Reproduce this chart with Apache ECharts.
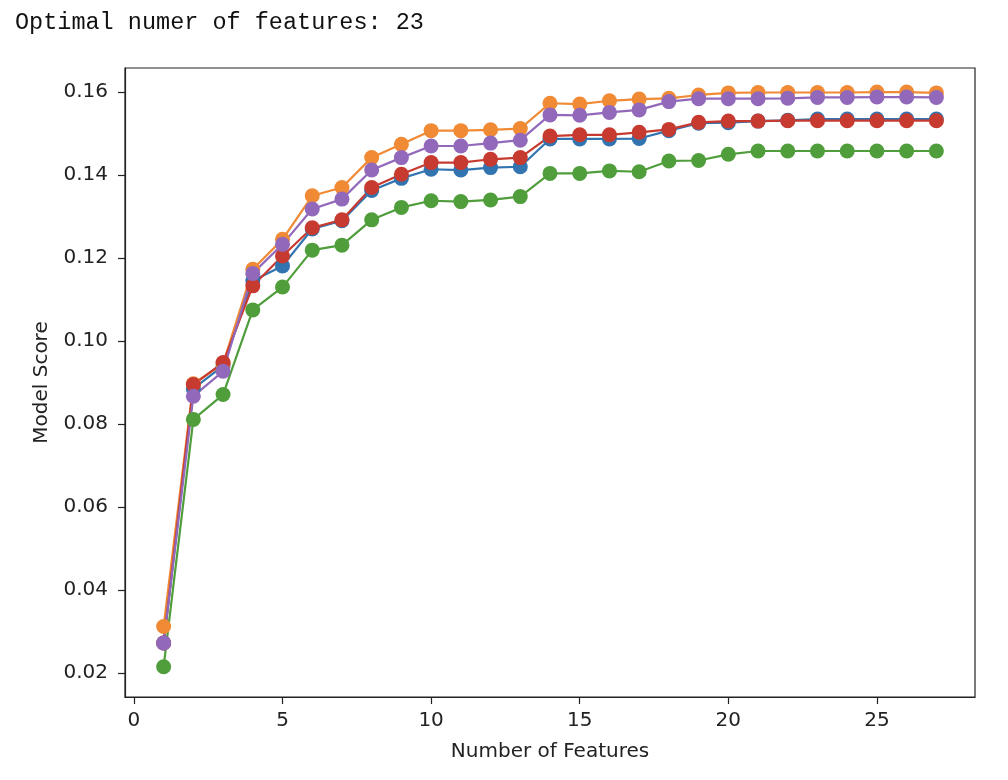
<!DOCTYPE html>
<html>
<head>
<meta charset="utf-8">
<script src="https://cdn.jsdelivr.net/npm/echarts@6/dist/echarts.min.js"></script>
<style>
html,body{margin:0;padding:0;background:#fff;}
#chart{width:1008px;height:780px;}
</style>
</head>
<body>
<div id="chart"></div>
<script>
const titleText = "Optimal numer of features: 23";
const xLabel = "Number of Features";
const yLabel = "Model Score";
const nFeatures = [1,2,3,4,5,6,7,8,9,10,11,12,13,14,15,16,17,18,19,20,21,22,23,24,25,26,27];
const xTicks = [0,5,10,15,20,25];
const yTicks = [0.02,0.04,0.06,0.08,0.10,0.12,0.14,0.16];

const seriesBlue   = [0.0272,0.0885,0.0940,0.1145,0.1181,0.1270,0.1290,0.1363,0.1392,0.1414,0.1412,0.1418,0.1420,0.1487,0.1487,0.1487,0.1488,0.1507,0.1525,0.1526,0.1530,0.1532,0.1535,0.1535,0.1535,0.1535,0.1535];
const seriesOrange = [0.0312,0.0897,0.0945,0.1173,0.1245,0.1350,0.1370,0.1442,0.1474,0.1507,0.1507,0.1509,0.1512,0.1573,0.1571,0.1579,0.1583,0.1585,0.1593,0.1598,0.1599,0.1599,0.1599,0.1599,0.1600,0.1600,0.1598];
const seriesGreen  = [0.0215,0.0811,0.0871,0.1075,0.1130,0.1219,0.1231,0.1292,0.1322,0.1338,0.1336,0.1340,0.1348,0.1404,0.1404,0.1410,0.1408,0.1434,0.1435,0.1450,0.1458,0.1458,0.1458,0.1458,0.1458,0.1458,0.1458];
const seriesRed    = [0.0272,0.0895,0.0948,0.1133,0.1205,0.1273,0.1292,0.1370,0.1402,0.1430,0.1430,0.1438,0.1442,0.1494,0.1497,0.1497,0.1503,0.1510,0.1527,0.1530,0.1530,0.1531,0.1531,0.1531,0.1531,0.1531,0.1531];
const seriesPurple = [0.0272,0.0867,0.0927,0.1163,0.1233,0.1318,0.1342,0.1412,0.1442,0.1470,0.1470,0.1477,0.1484,0.1545,0.1544,0.1551,0.1557,0.1577,0.1584,0.1584,0.1584,0.1585,0.1587,0.1587,0.1588,0.1588,0.1587];

const allSeries = [
  {name:'s0', data:seriesBlue,   color:'#3274b0'},
  {name:'s1', data:seriesOrange, color:'#f08a34'},
  {name:'s2', data:seriesGreen,  color:'#4f9e3b'},
  {name:'s3', data:seriesRed,    color:'#c73a30'},
  {name:'s4', data:seriesPurple, color:'#9268bb'}
];

const chart = echarts.init(document.getElementById('chart'), null, {renderer:'canvas'});
const tickFont = {fontFamily:'DejaVu Sans', fontSize:20, color:'#222'};
chart.setOption({
  animation:false,
  backgroundColor:'#fff',
  title:{
    text:titleText, left:10, top:6,
    textStyle:{fontFamily:'Liberation Mono', fontSize:23.5, fontWeight:'normal', color:'#111'}
  },
  grid:{left:125, right:33, top:68, bottom:83, show:true, borderColor:'#222', borderWidth:1.2, containLabel:false},
  xAxis:{
    type:'value', min:-0.3, max:28.3,
    name:xLabel, nameLocation:'middle', nameGap:45,
    nameTextStyle:{fontFamily:'DejaVu Sans', fontSize:20, color:'#222'},
    axisLine:{show:true, onZero:false, lineStyle:{color:'#222', width:1.2}},
    axisTick:{show:true, inside:false, length:7, customValues:xTicks, lineStyle:{color:'#222', width:1.2}},
    axisLabel:Object.assign({customValues:xTicks, margin:14}, tickFont),
    splitLine:{show:false}
  },
  yAxis:{
    type:'value', min:0.0142, max:0.1658,
    name:yLabel, nameLocation:'middle', nameGap:73, nameRotate:90,
    nameTextStyle:{fontFamily:'DejaVu Sans', fontSize:20, color:'#222'},
    axisLine:{show:true, onZero:false, lineStyle:{color:'#222', width:1.2}},
    axisTick:{show:true, inside:false, length:7, customValues:yTicks, lineStyle:{color:'#222', width:1.2}},
    axisLabel:Object.assign({customValues:yTicks, margin:17, formatter:v=>v.toFixed(2)}, tickFont),
    splitLine:{show:false}
  },
  series: allSeries.map(s=>({
    type:'line', name:s.name,
    data: nFeatures.map((x,i)=>[x, s.data[i]]),
    symbol:'circle', symbolSize:15, showAllSymbol:true,
    lineStyle:{color:s.color, width:2.2},
    itemStyle:{color:s.color, borderWidth:0},
    emphasis:{disabled:true}
  }))
});
</script>
</body>
</html>
